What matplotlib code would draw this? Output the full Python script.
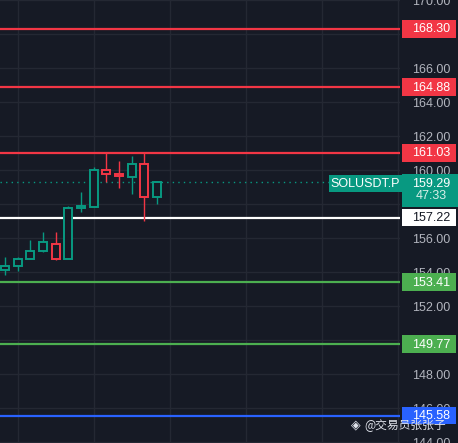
import matplotlib
matplotlib.use("Agg")
import matplotlib.pyplot as plt
from matplotlib.patches import Rectangle

# -------------------------------------------------------
# data
# -------------------------------------------------------
opens = [154.12, 154.35, 154.76, 155.28, 155.68, 154.81, 157.76, 157.82, 160.02, 159.79, 159.61, 160.36, 158.40]
highs = [154.89, 154.89, 155.87, 156.39, 156.39, 157.88, 158.69, 160.19, 161.00, 160.55, 160.83, 161.00, 159.38]
lows = [153.83, 154.06, 154.76, 155.20, 154.70, 154.81, 157.57, 157.82, 159.30, 158.95, 158.61, 156.99, 158.03]
closes = [154.37, 154.76, 155.28, 155.76, 154.81, 157.76, 157.88, 159.99, 159.79, 159.67, 160.36, 158.40, 159.29]

level_prices = [168.30, 164.88, 161.03, 157.22, 153.41, 149.77, 145.58]
level_colors = ['#f23645', '#f23645', '#f23645', '#ffffff', '#4caf50', '#4caf50', '#2962ff']
level_text_colors = ['white', 'white', 'white', '#131722', 'white', 'white', 'white']

price_ticks = [144, 146, 148, 150, 152, 154, 156, 158, 160, 162, 164, 166, 168, 170]
hidden_ticks = [150, 158, 168]  # covered by the level labels in the price scale
symbol = "SOLUSDT.P"
last_price = 159.29
countdown = "47:33"
watermark = "@交易员张张子"

# -------------------------------------------------------
# style
# -------------------------------------------------------
BG = '#161a25'
GRID = '#242833'
UP = '#089981'
DOWN = '#f23645'
AXIS_TXT = '#b2b5be'
plt.rcParams['font.family'] = ['Liberation Sans', 'DejaVu Sans']

W, H = 458, 443
PLOT_W = 400  # px, price scale starts here

fig = plt.figure(figsize=(W / 100, H / 100), dpi=100)
fig.patch.set_facecolor(BG)
ax = fig.add_axes([0, 0, PLOT_W / W, 1])
ax.set_facecolor(BG)
for s in ax.spines.values():
    s.set_visible(False)

ax.set_xlim(-0.395, 31.18)
ax.set_ylim(143.97, 169.755)

# grid
ax.set_xticks([1, 7, 13, 19, 25, 31])
ax.set_yticks(price_ticks)
ax.set_yticklabels(["" if v in hidden_ticks else f"{v:.2f}" for v in price_ticks])
ax.grid(True, color=GRID, linewidth=1.0)
ax.set_axisbelow(True)
ax.tick_params(axis='x', length=0, labelbottom=False)
ax.yaxis.tick_right()
ax.tick_params(axis='y', length=0, pad=8.5, labelcolor=AXIS_TXT, labelsize=9)

# candles (hollow)
idx = list(range(len(opens)))
for i, o, h, l, c in zip(idx, opens, highs, lows, closes):
    col = UP if c >= o else DOWN
    lo_b, hi_b = min(o, c), max(o, c)
    ax.vlines(i, hi_b, h, color=col, linewidth=1.0, zorder=3)
    ax.vlines(i, l, lo_b, color=col, linewidth=1.0, zorder=3)
    ax.bar(i, max(hi_b - lo_b, 0.08), bottom=lo_b, width=0.62,
           facecolor=BG, edgecolor=col, linewidth=1.4, zorder=4)

# levels
ytr = ax.get_yaxis_transform()
for p, col, tc in zip(level_prices, level_colors, level_text_colors):
    ax.axhline(p, color=col, linewidth=1.6, zorder=2)
    ax.add_patch(Rectangle((402 / PLOT_W, p - 0.52), 54 / PLOT_W, 1.04,
                           transform=ytr, facecolor=col, edgecolor='none',
                           clip_on=False, zorder=6))
    ax.text(431 / PLOT_W, p - 0.03, f"{p:.2f}", transform=ytr, ha='center', va='center',
            color=tc, fontsize=9, clip_on=False, zorder=7)

# last price line + labels
ax.axhline(last_price, xmax=329 / PLOT_W, color=UP, linewidth=1.0,
           linestyle=(0, (1, 3)), zorder=2)
ax.add_patch(Rectangle((329 / PLOT_W, 159.225 - 0.52), 73 / PLOT_W, 1.04,
                       transform=ytr, facecolor=UP, edgecolor='none',
                       clip_on=False, zorder=6))
ax.text(365 / PLOT_W, 159.19, symbol, transform=ytr, ha='center', va='center',
        color='white', fontsize=9, clip_on=False, zorder=7)
ax.add_patch(Rectangle((402 / PLOT_W, 158.82 - 0.98), 56 / PLOT_W, 1.96,
                       transform=ytr, facecolor=UP, edgecolor='none',
                       clip_on=False, zorder=6))
ax.text(431 / PLOT_W, 159.17, f"{last_price:.2f}", transform=ytr, ha='center', va='center',
        color='white', fontsize=9, clip_on=False, zorder=7)
ax.text(431 / PLOT_W, 158.47, countdown, transform=ytr, ha='center', va='center',
        color='#d8efe9', fontsize=9, clip_on=False, zorder=7)

# watermark
ax.text(356 / PLOT_W, 145.06, "◈", transform=ytr, ha='center', va='center',
        color='#e0e3eb', fontsize=9, family=['DejaVu Sans'], clip_on=False, zorder=8)
ax.text(364 / PLOT_W, 145.06, watermark, transform=ytr, ha='left', va='center',
        color='#e0e3eb', fontsize=8.5, family=['Noto Sans CJK SC', 'DejaVu Sans'],
        clip_on=False, zorder=8)

fig.savefig("out.png", dpi=100, facecolor=BG)
